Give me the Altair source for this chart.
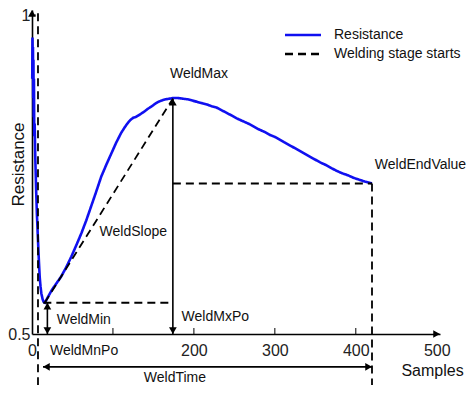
import altair as alt
import pandas as pd

FONT = "Liberation Sans"

# ---- resistance curve ----
curve_x = [0.3, 0.6, 0.9, 1.2, 1.5, 1.8, 2.1, 2.4, 2.8, 3.3, 4.0, 5.0, 6.0, 7.4, 8.5, 9.5,
           10.5, 11.5, 13, 14.5, 16, 18, 21, 25, 30, 36, 42, 48.5, 55, 61, 67, 73, 79, 85.6,
           92, 98, 104, 110, 115, 119, 122, 125, 128, 133, 138, 143, 148, 152, 156, 160, 165,
           170, 174, 180, 186, 192, 198, 204, 210, 216, 222, 228, 234, 240, 246, 253, 260,
           267, 273, 280, 287, 294, 300, 307, 314, 321, 328, 335, 342, 349, 356, 363, 370,
           376, 383, 390, 397, 404, 411, 417, 420]
curve_y = [0.90, 0.965, 0.92, 0.95, 0.87, 0.93, 0.84, 0.90, 0.81, 0.83, 0.78, 0.73, 0.69, 0.647,
           0.615, 0.590, 0.575, 0.564, 0.555, 0.550, 0.549, 0.554, 0.561, 0.570, 0.579, 0.590,
           0.604, 0.621, 0.640, 0.658, 0.678, 0.700, 0.722, 0.747, 0.766, 0.783, 0.800, 0.815,
           0.825, 0.832, 0.836, 0.839, 0.840, 0.844, 0.848, 0.853, 0.857, 0.861, 0.864, 0.866,
           0.868, 0.869, 0.870, 0.870, 0.869, 0.868, 0.866, 0.864, 0.862, 0.860, 0.857, 0.855,
           0.851, 0.847, 0.843, 0.838, 0.834, 0.830, 0.826, 0.821, 0.817, 0.812, 0.809, 0.804,
           0.799, 0.794, 0.789, 0.784, 0.779, 0.774, 0.769, 0.765, 0.760, 0.756, 0.752, 0.749,
           0.745, 0.742, 0.739, 0.737, 0.736]

series_names = ["Resistance", "Welding stage starts"]
series_colors = ["#1010f0", "#000000"]

# ---- dashed guide segments ----
dash_x = [7.4, 420, 14, 174, 15.7]
dash_x2 = [7.4, 420, 174, 420, 174]
dash_y = [1.003, 0.736, 0.549, 0.736, 0.549]
dash_y2 = [0.41, 0.41, 0.549, 0.736, 0.869]

# ---- solid arrows (WeldMin, WeldMax, WeldTime) ----
arrow_x = [19, 174, 13.6]
arrow_x2 = [19, 174, 420]
arrow_y = [0.5, 0.5, 0.4485]
arrow_y2 = [0.549, 0.869, 0.4485]

head_up_x, head_up_y = [19, 174, 0], [0.549, 0.869, 1.008]
head_down_x, head_down_y = [19, 174], [0.5, 0.5]
head_left_x, head_left_y = [13.6], [0.4485]
head_right_x, head_right_y = [420, 504], [0.4485, 0.5]

# ---- inward ticks / tick labels ----
xtick_vals = [100, 200, 300, 400]
ytick_vals = [1.0]
xlabel_vals = [0, 100, 200, 300, 400, 500]
ylabel_vals = [0.5, 1]

# ---- annotations ----
ann_text = ["WeldMax", "WeldEndValue", "WeldSlope", "WeldMin", "WeldMxPo", "WeldMnPo"]
ann_x = [170.4, 423.5, 83.5, 30.5, 184.8, 22.2]
ann_y = [0.9075, 0.765, 0.660, 0.522, 0.527, 0.474]
time_text, time_x, time_y = ["WeldTime"], [176.5], [0.4315]

X_DOMAIN = [0, 504]
Y_DOMAIN = [0.5, 1.008]
xs = alt.Scale(domain=X_DOMAIN, nice=False, zero=False)
ys = alt.Scale(domain=Y_DOMAIN, nice=False, zero=False)

legend = alt.Legend(title=None, orient="none", legendX=264, legendY=18,
                    symbolType="M-3.6,0L3.6,0", symbolSize=100, symbolStrokeWidth=2.5,
                    labelOffset=24, labelFontSize=14, labelFont=FONT, labelColor="#111",
                    rowPadding=5, padding=0)
color = alt.Color("series:N", scale=alt.Scale(domain=series_names, range=series_colors), legend=legend)
dash = alt.StrokeDash("series:N", scale=alt.Scale(domain=series_names, range=[[1, 0], [8, 5]]), legend=legend)

curve_df = pd.DataFrame({"x": curve_x, "y": curve_y, "series": "Resistance"})
dash_df = pd.DataFrame({"x": dash_x, "x2": dash_x2, "y": dash_y, "y2": dash_y2,
                        "series": "Welding stage starts"})
arrow_df = pd.DataFrame({"x": arrow_x, "x2": arrow_x2, "y": arrow_y, "y2": arrow_y2})

xaxis = alt.Axis(values=xlabel_vals,
                 labelExpr="datum.value == 100 ? '' : datum.label",
                 labelPadding=8, title="Samples", titleX=400, titleY=36,
                 titleAlign="center", titleBaseline="middle")
yaxis = alt.Axis(values=ylabel_vals, format="~g", labelPadding=2,
                 title="Resistance", titleFontSize=17, titleX=-14, titleY=154, titleAngle=270,
                 titleAlign="center", titleBaseline="middle")

curve = alt.Chart(curve_df).mark_line(strokeWidth=2.6).encode(
    x=alt.X("x:Q", scale=xs, axis=xaxis),
    y=alt.Y("y:Q", scale=ys, axis=yaxis),
    color=color, strokeDash=dash)

dashed = alt.Chart(dash_df).mark_rule(strokeWidth=1.8).encode(
    x=alt.X("x:Q", scale=xs), x2="x2:Q",
    y=alt.Y("y:Q", scale=ys), y2="y2:Q",
    color=color, strokeDash=dash)

arrows = alt.Chart(arrow_df).mark_rule(strokeWidth=1.6, color="black").encode(
    x=alt.X("x:Q", scale=xs), x2="x2:Q",
    y=alt.Y("y:Q", scale=ys), y2="y2:Q")

def heads(xv, yv, shape, dx=0, dy=0):
    df = pd.DataFrame({"x": xv, "y": yv})
    return alt.Chart(df).mark_point(shape=shape, filled=True, size=60, color="black",
                                    opacity=1, xOffset=dx, yOffset=dy).encode(
        x=alt.X("x:Q", scale=xs), y=alt.Y("y:Q", scale=ys))

h_up = heads(head_up_x, head_up_y, "triangle-up", dy=3.4)
h_down = heads(head_down_x, head_down_y, "triangle-down", dy=-3.4)
h_left = heads(head_left_x, head_left_y, "triangle-left", dx=3.4)
h_right = heads(head_right_x, head_right_y, "triangle-right", dx=-3.4)

xt_df = pd.DataFrame({"x": xtick_vals, "y": [0.5] * len(xtick_vals), "y2": [0.5094] * len(xtick_vals)})
xticks = alt.Chart(xt_df).mark_rule(strokeWidth=1, color="black").encode(
    x=alt.X("x:Q", scale=xs), y=alt.Y("y:Q", scale=ys), y2="y2:Q")
yt_df = pd.DataFrame({"y": ytick_vals, "x": [0] * len(ytick_vals), "x2": [5] * len(ytick_vals)})
yticks = alt.Chart(yt_df).mark_rule(strokeWidth=1, color="black").encode(
    y=alt.Y("y:Q", scale=ys), x=alt.X("x:Q", scale=xs), x2="x2:Q")

ann_df = pd.DataFrame({"t": ann_text, "x": ann_x, "y": ann_y})
ann = alt.Chart(ann_df).mark_text(align="left", baseline="middle", fontSize=14, font=FONT,
                                  color="#111").encode(
    x=alt.X("x:Q", scale=xs), y=alt.Y("y:Q", scale=ys), text="t:N")
time_df = pd.DataFrame({"t": time_text, "x": time_x, "y": time_y})
time_lbl = alt.Chart(time_df).mark_text(align="center", baseline="middle", fontSize=14, font=FONT,
                                        color="#111").encode(
    x=alt.X("x:Q", scale=xs), y=alt.Y("y:Q", scale=ys), text="t:N")

chart = alt.layer(curve, dashed, arrows, h_up, h_down, h_left, h_right, xticks, yticks,
                  ann, time_lbl).properties(
    width=408, height=324,
    autosize=alt.AutoSizeParams(type="none"),
    padding={"left": 24, "top": 2, "right": 26, "bottom": 51},
    background="white",
).configure_view(stroke=None).configure_axis(
    ticks=False, grid=False, domainColor="black", domainWidth=1.6,
    labelFontSize=16, labelFont=FONT, labelColor="#222", labelFlush=False, labelOverlap=False,
    titleFontSize=16, titleFont=FONT, titleFontWeight="normal", titleColor="#111",
)

chart.save("out.html", embed_options={"renderer": "svg", "actions": False})
